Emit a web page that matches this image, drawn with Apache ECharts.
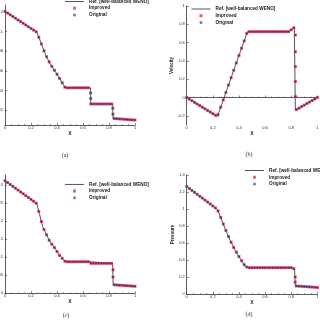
<!DOCTYPE html>
<html><head><meta charset="utf-8">
<script src="https://cdn.jsdelivr.net/npm/echarts@6/dist/echarts.min.js"></script>
<style>html,body{margin:0;padding:0;background:#fff}#c{width:320px;height:320px}</style>
</head><body><div id="c"></div>
<script>
// sample positions of the numerical solutions
const xs = [0,0.02,0.04,0.06,0.08,0.1,0.12,0.14,0.16,0.18,0.2,0.22,0.24,0.26,0.28,0.3,0.32,0.34,0.36,0.38,0.4,0.42,0.44,0.46,0.48,0.5,0.52,0.54,0.56,0.58,0.6,0.62,0.64,0.66,0.68,0.7,0.72,0.74,0.76,0.78,0.8,0.82,0.84,0.86,0.88,0.9,0.92,0.94,0.96,0.98,1];
const xTicks = [0,0.2,0.4,0.6,0.8,1];

// (a)
const aTicks = [0.02,0.04,0.06,0.08,0.1,0.12];
const aRef = [[0,0.1205],[0.245,0.0993],[0.269,0.0912],[0.308,0.0777],[0.346,0.0675],[0.397,0.0573],[0.436,0.0488],[0.465,0.0428],[0.658,0.0428],[0.660,0.0264],[0.828,0.0264],[0.831,0.0116],[1,0.0100]];
const aImp = [0.1205,0.1188,0.1170,0.1153,0.1136,0.1118,0.1101,0.1084,0.1067,0.1049,0.1032,0.1015,0.0997,0.0942,0.0874,0.0804,0.0745,0.0691,0.0647,0.0606,0.0566,0.0523,0.0479,0.0435,0.0428,0.0428,0.0428,0.0428,0.0428,0.0428,0.0428,0.0428,0.0428,0.0264,0.0264,0.0264,0.0264,0.0264,0.0264,0.0264,0.0264,0.0264,0.0116,0.0114,0.0112,0.0110,0.0108,0.0106,0.0104,0.0102,0.0100];
const aOrig = aImp;
const aShock = [[0.658,0.0375],[0.659,0.032],[0.829,0.022],[0.830,0.016]];

// (b) velocity
const bTicks = [-0.2,0,0.2,0.4,0.6,0.8,1];
const bRef = [[0,0],[0.235,-0.207],[0.465,0.72],[0.78,0.72],[0.824,0.768],[0.832,-0.136],[1,0]];
const bImp = [0,-0.0176,-0.0352,-0.0529,-0.0705,-0.088,-0.1057,-0.1233,-0.141,-0.1586,-0.176,-0.194,-0.187,-0.106,-0.026,0.055,0.136,0.216,0.297,0.378,0.458,0.539,0.619,0.70,0.72,0.72,0.72,0.72,0.72,0.72,0.72,0.72,0.72,0.72,0.72,0.72,0.72,0.72,0.72,0.72,0.740,0.762,-0.132,-0.116,-0.099,-0.083,-0.066,-0.050,-0.033,-0.017,0];
const bOrig = bImp;
const bShock = [[0.832,0.684],[0.832,0.50],[0.832,0.338],[0.832,0.175],[0.832,0.011]];

// (c)
const cTicks = [0,0.05,0.1,0.15,0.2,0.25,0.3];
const cRef = [[0,0.312],[0.244,0.249],[0.264,0.2216],[0.29,0.1845],[0.321,0.1615],[0.346,0.143],[0.385,0.1246],[0.418,0.106],[0.465,0.0875],[0.645,0.0875],[0.655,0.083],[0.828,0.083],[0.832,0.0235],[1,0.0195]];
const cImp = [0.312,0.307,0.302,0.2965,0.2914,0.2862,0.281,0.2759,0.2707,0.2655,0.2604,0.2552,0.250,0.227,0.199,0.177,0.162,0.147,0.136,0.127,0.116,0.105,0.097,0.089,0.0875,0.0875,0.0875,0.0875,0.0875,0.0875,0.0875,0.0875,0.0875,0.083,0.083,0.083,0.083,0.083,0.083,0.083,0.083,0.083,0.0235,0.023,0.0225,0.022,0.0215,0.021,0.0205,0.020,0.0195];
const cOrig = cImp;
const cShock = [[0.831,0.065],[0.831,0.045]];

// (d) pressure
const dTicks = [0,0.2,0.4,0.6,0.8,1,1.2,1.4];
const dRef = [[0,1.265],[0.235,0.996],[0.268,0.871],[0.293,0.773],[0.332,0.635],[0.37,0.518],[0.408,0.42],[0.447,0.329],[0.468,0.31],[0.81,0.31],[0.826,0.29],[0.832,0.094],[1,0.077]];
const dImp = [1.265,1.242,1.219,1.196,1.173,1.150,1.128,1.105,1.082,1.059,1.036,1.013,0.977,0.90,0.824,0.748,0.677,0.610,0.548,0.492,0.440,0.392,0.345,0.318,0.31,0.31,0.31,0.31,0.31,0.31,0.31,0.31,0.31,0.31,0.31,0.31,0.31,0.31,0.31,0.31,0.31,0.298,0.094,0.092,0.090,0.088,0.086,0.084,0.081,0.079,0.077];
const dOrig = dImp;
const dShock = [[0.831,0.2],[0.831,0.14]];

const REF = 'Ref. [well-balanced WENO]', IMP = 'Improved', ORIG = 'Original';

const panels = [
  {grid:{left:5,top:5,width:130,height:120}, ymin:0.005, ymax:0.127, yt:aTicks, ref:aRef, imp:aImp, orig:aOrig, shock:aShock, yname:'', lg:[65,-1.85], cap:'(a)', cp:[65,155]},
  {grid:{left:186.7,top:6,width:130.6,height:119}, ymin:-0.3, ymax:1, yt:bTicks, ref:bRef, imp:bImp, orig:bOrig, shock:bShock, yname:'Velocity', lg:[191.5,5.65], cap:'(b)', cp:[249,154.5]},
  {grid:{left:5,top:175,width:130,height:118.3}, ymin:0, ymax:0.328, yt:cTicks, ref:cRef, imp:cImp, orig:cOrig, shock:cShock, yname:'', lg:[65,181], cap:'(c)', cp:[66,315]},
  {grid:{left:186.7,top:175,width:130.6,height:119}, ymin:0, ymax:1.4, yt:dTicks, ref:dRef, imp:dImp, orig:dOrig, shock:dShock, yname:'Pressure', lg:[245,167.2], cap:'(d)', cp:[249,314]}
];

const axCol = '#333';
const option = {animation:false, backgroundColor:'#fff', grid:[], xAxis:[], yAxis:[], series:[], legend:[], graphic:[]};
panels.forEach((p,i)=>{
  option.grid.push(Object.assign({containLabel:false, outerBoundsMode:'none'}, p.grid));
  option.xAxis.push({type:'value', gridIndex:i, min:0, max:1, interval:0.2,
    name:'X', nameLocation:'middle', nameGap:5,
    nameTextStyle:{fontSize:5, fontWeight:'bold', color:'#222', fontFamily:'Liberation Sans'},
    axisLine:{lineStyle:{color:axCol, width:0.8}},
    axisTick:{inside:true, length:2, lineStyle:{color:axCol, width:0.6}},
    minorTick:{show:true, splitNumber:4, length:1, lineStyle:{color:axCol, width:0.5}},
    axisLabel:{fontSize:4, margin:1, color:'#333', fontFamily:'Liberation Sans'},
    splitLine:{show:false}});
  option.yAxis.push({type:'value', gridIndex:i, min:p.ymin, max:p.ymax,
    name:p.yname, nameLocation:'middle', nameGap:9,
    nameTextStyle:{fontSize:4.5, fontWeight:'bold', color:'#222', fontFamily:'Liberation Sans'},
    axisLine:{show:true, lineStyle:{color:axCol, width:0.8}},
    axisTick:{show:true, inside:true, length:2, customValues:p.yt, lineStyle:{color:axCol, width:0.6}},
    axisLabel:{fontSize:4, margin:2, color:'#333', fontFamily:'Liberation Sans', customValues:p.yt},
    splitLine:{show:false}});
  option.series.push({type:'line', name:REF, xAxisIndex:i, yAxisIndex:i, data:p.ref, symbol:'none', z:2,
    lineStyle:{color:'#2a2a2a', width:0.8}, itemStyle:{color:'#2a2a2a'}});
  option.series.push({type:'scatter', name:IMP, xAxisIndex:i, yAxisIndex:i, z:3,
    data:xs.map((x,k)=>[x,p.imp[k]]).concat(p.shock), symbol:'rect', symbolSize:3, itemStyle:{color:'#dc3c5c'}});
  option.series.push({type:'scatter', name:ORIG, xAxisIndex:i, yAxisIndex:i, z:4,
    data:xs.map((x,k)=>[x,p.orig[k]]).concat(p.shock), symbol:'circle', symbolSize:2, itemStyle:{color:'#27287a'}});
  option.legend.push({orient:'vertical', left:p.lg[0], top:p.lg[1], padding:0, itemGap:0, itemWidth:19, itemHeight:3,
    selectedMode:false,
    textStyle:{fontSize:4.7, fontWeight:'bold', color:'#222', fontFamily:'Liberation Sans', lineHeight:6.7},
    data:[
      {name:REF, icon:'path://M0,0H38V1.6H0Z'},
      {name:IMP, icon:'path://M0,0H1V1H0Z'},
      {name:ORIG, icon:'circle', itemStyle:{color:'#4a55c0'}}
    ]});
  option.graphic.push({type:'text', x:p.cp[0], y:p.cp[1],
    style:{text:p.cap, align:'center', verticalAlign:'middle', fontSize:6, fontFamily:'Liberation Serif', fill:'#333'}});
});
const chart = echarts.init(document.getElementById('c'));
chart.setOption(option);
</script></body></html>
